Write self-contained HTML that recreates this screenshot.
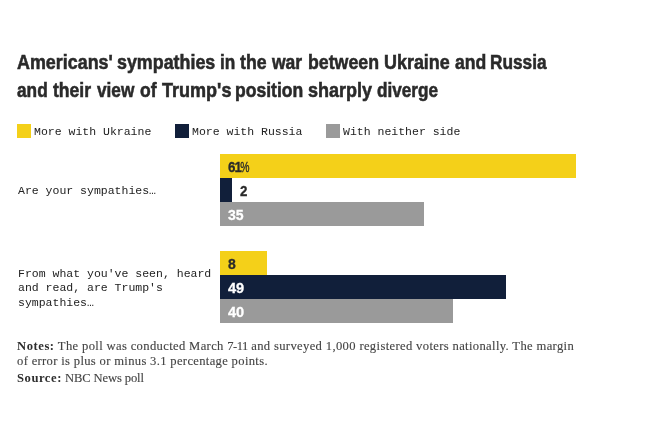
<!DOCTYPE html>
<html><head><meta charset="utf-8">
<style>
html,body{margin:0;padding:0;background:#fff;}
body{width:651px;height:425px;position:relative;overflow:hidden;color:#2a2a2a;}
.title{position:absolute;left:0;top:0;margin:0;font-family:"Liberation Sans",sans-serif;font-weight:bold;font-size:20px;line-height:28px;color:#2a2a2a;-webkit-text-stroke:0.55px #2a2a2a;}
.tw{position:absolute;white-space:nowrap;transform-origin:0 0;}
.legend{position:absolute;top:124px;left:0;font-family:"Liberation Mono",monospace;font-size:11.5px;color:#222;}
.legend .it{position:absolute;top:0;white-space:nowrap;line-height:14px;}
.legend .sw{position:absolute;left:0;top:0;width:14px;height:14px;}
.legend .tx{position:absolute;left:17px;top:0.5px;}
.bar{position:absolute;left:220px;height:24px;}
.y{background:#f4d019;}
.n{background:#111f3a;}
.g{background:#9a9a9a;}
.v{position:absolute;font-family:"Liberation Sans",sans-serif;font-weight:bold;font-size:14px;line-height:24px;transform-origin:0 50%;transform:scaleX(1.0);-webkit-text-stroke:0.3px;white-space:nowrap;}
.pc{display:inline-block;font-weight:normal;-webkit-text-stroke:0.35px;margin-left:-0.3px;transform-origin:0 50%;transform:scaleX(0.78);}
.lab{position:absolute;left:18px;font-family:"Liberation Mono",monospace;font-size:11.5px;line-height:14px;color:#222;white-space:nowrap;}
.notes{position:absolute;left:17px;font-family:"Liberation Serif",serif;font-size:12.6px;line-height:16px;color:#444;-webkit-text-stroke:0.12px #444;white-space:nowrap;letter-spacing:0.33px;}
.notes b{color:#2e2e2e;letter-spacing:0.55px;-webkit-text-stroke:0;}
</style></head><body>
<h1 class="title"><span class="tw" style="left:17.29px;top:48px;transform:scaleX(0.895)">Americans'</span> <span class="tw" style="left:117.38px;top:48px;transform:scaleX(0.893)">sympathies</span> <span class="tw" style="left:219.94px;top:48px;transform:scaleX(0.860)">in</span> <span class="tw" style="left:240.18px;top:48px;transform:scaleX(0.884)">the</span> <span class="tw" style="left:272.21px;top:48px;transform:scaleX(0.875)">war</span> <span class="tw" style="left:308.24px;top:48px;transform:scaleX(0.887)">between</span> <span class="tw" style="left:384.17px;top:48px;transform:scaleX(0.896)">Ukraine</span> <span class="tw" style="left:455.08px;top:48px;transform:scaleX(0.880)">and</span> <span class="tw" style="left:490.47px;top:48px;transform:scaleX(0.863)">Russia</span>
<span class="tw" style="left:16.64px;top:76px;transform:scaleX(0.863)">and</span> <span class="tw" style="left:53.16px;top:76px;transform:scaleX(0.879)">their</span> <span class="tw" style="left:97.49px;top:76px;transform:scaleX(0.860)">view</span> <span class="tw" style="left:140.20px;top:76px;transform:scaleX(0.875)">of</span> <span class="tw" style="left:161.72px;top:76px;transform:scaleX(0.902)">Trump's</span> <span class="tw" style="left:235.36px;top:76px;transform:scaleX(0.878)">position</span> <span class="tw" style="left:308.08px;top:76px;transform:scaleX(0.900)">sharply</span> <span class="tw" style="left:377.03px;top:76px;transform:scaleX(0.857)">diverge</span></h1>
<div class="legend">
 <div class="it" style="left:17px"><span class="sw y"></span><span class="tx">More with Ukraine</span></div>
 <div class="it" style="left:175px"><span class="sw n"></span><span class="tx">More with Russia</span></div>
 <div class="it" style="left:326px"><span class="sw g"></span><span class="tx">With neither side</span></div>
</div>

<div class="lab" style="top:184px">Are your sympathies…</div>
<div class="bar y" style="top:154px;width:356px"></div>
<div class="bar n" style="top:178px;width:12px"></div>
<div class="bar g" style="top:202px;width:204px"></div>
<div class="v" style="left:228px;top:155px;color:#2a2a2a;transform:scaleX(0.95)"><span style="letter-spacing:-1px">61</span><span class="pc">%</span></div>
<div class="v" style="left:240px;top:179px;transform:scaleX(0.95);color:#2a2a2a">2</div>
<div class="v" style="left:228px;top:203px;color:#fff">35</div>

<div class="lab" style="top:267px">From what you've seen, heard</div>
<div class="lab" style="top:281px">and read, are Trump's</div>
<div class="lab" style="top:296px">sympathies…</div>
<div class="bar y" style="top:251px;width:47px"></div>
<div class="bar n" style="top:275px;width:286px"></div>
<div class="bar g" style="top:299px;width:233px"></div>
<div class="v" style="left:228px;top:252px;color:#2a2a2a">8</div>
<div class="v" style="left:228px;top:276px;color:#fff;transform:scaleX(1.04)">49</div>
<div class="v" style="left:228px;top:300px;color:#fff;transform:scaleX(1.04)">40</div>

<div class="notes" style="top:338px;letter-spacing:0.355px"><b>Notes:</b> The poll was conducted March <span style="letter-spacing:-0.55px">7-11</span> and surveyed 1,000 registered voters nationally. The margin</div>
<div class="notes" style="top:353px">of error is plus or minus 3.1 percentage points.</div>
<div class="notes" style="top:370px"><b>Source:</b><span style="letter-spacing:-0.12px"> NBC News poll</span></div>
</body></html>
